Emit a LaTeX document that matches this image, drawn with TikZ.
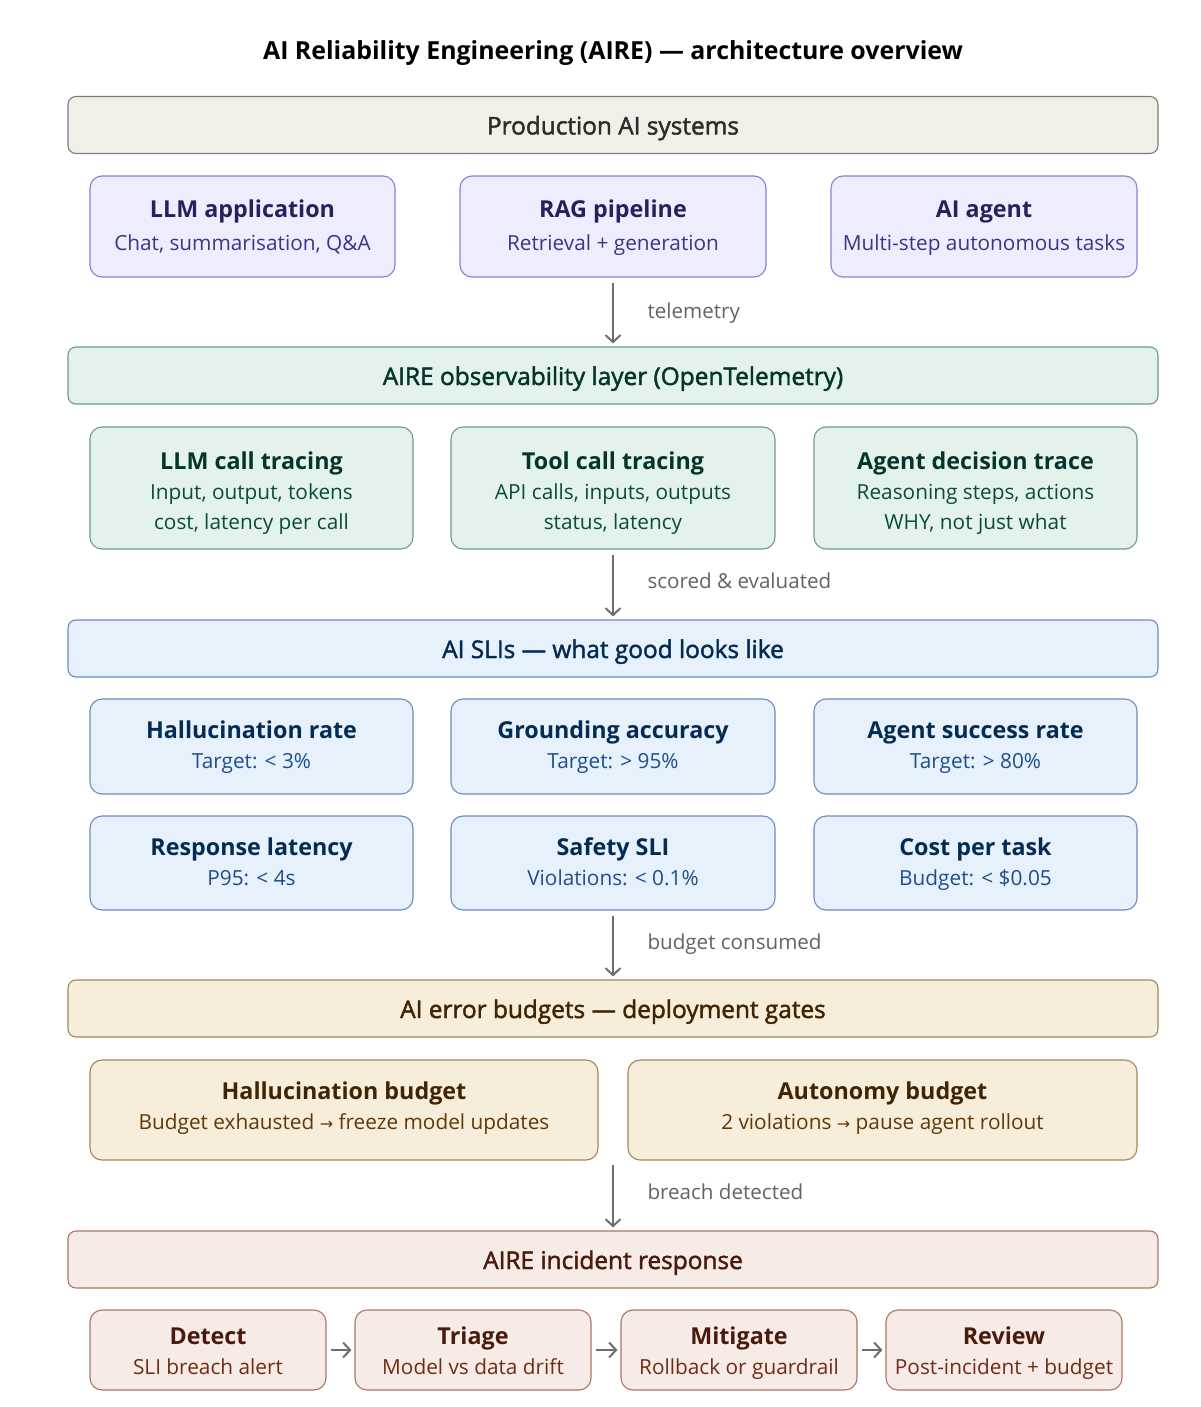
\documentclass[tikz,border=0pt]{standalone}
\usepackage{fontspec}
\setmainfont{Open Sans}
\newfontfamily\medfont{Open Sans}[FakeBold=1.8]
\newfontfamily\symf{DejaVu Sans}
\usetikzlibrary{arrows.meta}
\definecolor{gfill}{HTML}{F1EFE8}\definecolor{gdraw}{HTML}{7E7D78}\definecolor{gtext}{HTML}{2C2C2A}
\definecolor{pfill}{HTML}{EEEDFE}\definecolor{pdraw}{HTML}{8580D8}\definecolor{ptitle}{HTML}{26215C}\definecolor{psub}{HTML}{3C3489}
\definecolor{tfill}{HTML}{E3F3EC}\definecolor{tdraw}{HTML}{6F9A8A}\definecolor{ttitle}{HTML}{04342C}\definecolor{tsub}{HTML}{0B4A3E}
\definecolor{bfill}{HTML}{E6F1FB}\definecolor{bdraw}{HTML}{6A8BC0}\definecolor{btitle}{HTML}{042C53}\definecolor{bsub}{HTML}{1F4E8A}
\definecolor{afill}{HTML}{F6EDDA}\definecolor{adraw}{HTML}{A68656}\definecolor{atitle}{HTML}{412402}\definecolor{asub}{HTML}{633806}
\definecolor{cfill}{HTML}{F6EBE6}\definecolor{cdraw}{HTML}{AD7464}\definecolor{ctitle}{HTML}{4A1B0C}\definecolor{csub}{HTML}{712B13}
\definecolor{arrc}{HTML}{6E6E6E}
\newcommand{\st}[2]{\rule[-#2pt]{0pt}{\dimexpr#1pt+#2pt\relax}}
\newcommand{\ttl}[1]{\textcolor{\tc}{\fontsize{23.3}{28}\selectfont\bfseries #1}}
\newcommand{\ra}{{\symf\fontsize{16}{18}\selectfont →}}
\begin{document}
\begin{tikzpicture}[x=1pt,y=-1pt,
  band/.style={draw, rounded corners=8pt, line width=1.1pt, minimum width=1090pt, minimum height=57pt, inner sep=0pt, text height=24pt, text depth=5pt, font=\fontsize{24.4}{28}\selectfont\medfont},
  box/.style={draw, rounded corners=12pt, line width=1.1pt, inner sep=0pt, align=center, font=\fontsize{20.8}{30}\selectfont},
  gband/.style={band, fill=gfill, draw=gdraw, text=gtext},
  pbox/.style={box, fill=pfill, draw=pdraw, text=psub, execute at begin node={\def\tc{ptitle}}},
  tband/.style={band, fill=tfill, draw=tdraw, text=ttitle},
  tbox/.style={box, fill=tfill, draw=tdraw, text=tsub, execute at begin node={\def\tc{ttitle}}},
  bband/.style={band, fill=bfill, draw=bdraw, text=btitle},
  bbox/.style={box, fill=bfill, draw=bdraw, text=bsub, execute at begin node={\def\tc{btitle}}},
  aband/.style={band, fill=afill, draw=adraw, text=atitle},
  abox/.style={box, fill=afill, draw=adraw, text=asub, execute at begin node={\def\tc{atitle}}},
  cband/.style={band, fill=cfill, draw=cdraw, text=ctitle},
  cbox/.style={box, fill=cfill, draw=cdraw, text=csub, execute at begin node={\def\tc{ctitle}}},
  arr/.style={draw=arrc, line width=2pt, -{Straight Barb[length=7pt,width=15pt]}},
  lbl/.style={anchor=west, text=arrc!90!black, text height=16pt, text depth=5pt, font=\fontsize{20.6}{24}\selectfont}
]
\useasboundingbox[fill=white] (0,0) rectangle (1200,1407);

\node[font=\fontsize{24.9}{30}\selectfont\bfseries, text=black, text height=24pt, text depth=5pt] (title) at (613,50) {AI Reliability Engineering (AIRE) — architecture overview};

% band 1
\node[gband] (prod) at (613,125) {Production AI systems};
\node[pbox, minimum width=305pt, minimum height=101pt] (llm) at (242.5,226.5) {\st{22}{8}\ttl{LLM application}\\[3pt]\st{22}{8}Chat, summarisation, Q\&A};
\node[pbox, minimum width=306pt, minimum height=101pt] (rag) at (613,226.5) {\st{22}{8}\ttl{RAG pipeline}\\[3pt]\st{22}{8}Retrieval + generation};
\node[pbox, minimum width=306pt, minimum height=101pt] (agent) at (984,226.5) {\st{22}{8}\ttl{AI agent}\\[3pt]\st{22}{8}Multi-step autonomous tasks};

% band 2
\node[tband] (obs) at (613,375.5) {AIRE observability layer (OpenTelemetry)};
\draw[arr] ([yshift=-5pt]rag.south) -- ([yshift=3pt]obs.north);
\node[lbl] (l1) at (644,313) {telemetry};
\node[tbox, minimum width=323pt, minimum height=122pt] (llmt) at (251.5,488) {\st{31}{8}\ttl{LLM call tracing}\\\st{22}{8}Input, output, tokens\\\st{22}{8}cost, latency per call};
\node[tbox, minimum width=324pt, minimum height=122pt] (toolt) at (613,488) {\st{31}{8}\ttl{Tool call tracing}\\\st{22}{8}API calls, inputs, outputs\\\st{22}{8}status, latency};
\node[tbox, minimum width=323pt, minimum height=122pt] (agt) at (975.5,488) {\st{31}{8}\ttl{Agent decision trace}\\\st{22}{8}Reasoning steps, actions\\\st{22}{8}WHY, not just what};

% band 3
\node[bband] (sli) at (613,648.5) {AI SLIs — what good looks like};
\draw[arr] ([yshift=-5pt]toolt.south) -- ([yshift=3pt]sli.north);
\node[lbl] (l2) at (644,583) {scored \& evaluated};
\node[bbox, minimum width=323pt, minimum height=95pt] (hr) at (251.5,746.5) {\st{22}{8}\ttl{Hallucination rate}\\\st{22}{8}Target: < 3\%};
\node[bbox, minimum width=324pt, minimum height=95pt] (ga) at (613,746.5) {\st{22}{8}\ttl{Grounding accuracy}\\\st{22}{8}Target: > 95\%};
\node[bbox, minimum width=323pt, minimum height=95pt] (asr) at (975.5,746.5) {\st{22}{8}\ttl{Agent success rate}\\\st{22}{8}Target: > 80\%};
\node[bbox, minimum width=323pt, minimum height=94pt] (rl) at (251.5,863) {\st{22}{8}\ttl{Response latency}\\\st{22}{8}P95: < 4s};
\node[bbox, minimum width=324pt, minimum height=94pt] (ss) at (613,863) {\st{22}{8}\ttl{Safety SLI}\\\st{22}{8}Violations: < 0.1\%};
\node[bbox, minimum width=323pt, minimum height=94pt] (cpt) at (975.5,863) {\st{22}{8}\ttl{Cost per task}\\\st{22}{8}Budget: < \$0.05};

% band 4
\node[aband] (eb) at (613,1008.5) {AI error budgets — deployment gates};
\draw[arr] ([yshift=-5pt]ss.south) -- ([yshift=3pt]eb.north);
\node[lbl] (l3) at (644,944) {budget consumed};
\node[abox, minimum width=508pt, minimum height=100pt] (hb) at (344,1110) {\st{22}{8}\ttl{Hallucination budget}\\\st{22}{13}Budget exhausted \ra{} freeze model updates};
\node[abox, minimum width=509pt, minimum height=100pt] (ab) at (882.5,1110) {\st{22}{8}\ttl{Autonomy budget}\\\st{22}{13}2 violations \ra{} pause agent rollout};

% band 5
\node[cband] (ir) at (613,1259.5) {AIRE incident response};
\coordinate (brk) at (613,1165);
\draw[arr] (brk) -- ([yshift=3pt]ir.north);
\node[lbl] (l4) at (644,1194) {breach detected};
\node[cbox, minimum width=236pt, minimum height=80pt] (det) at (208,1350) {\st{26}{8}\ttl{Detect}\\\st{22}{8}SLI breach alert};
\node[cbox, minimum width=236pt, minimum height=80pt] (tri) at (473,1350) {\st{26}{8}\ttl{Triage}\\\st{22}{8}Model vs data drift};
\node[cbox, minimum width=236pt, minimum height=80pt] (mit) at (739,1350) {\st{26}{8}\ttl{Mitigate}\\\st{22}{8}Rollback or guardrail};
\node[cbox, minimum width=236pt, minimum height=80pt] (rev) at (1004,1350) {\st{26}{8}\ttl{Review}\\\st{22}{8}Post-incident + budget};
\draw[arr] ([xshift=4pt]det.east) -- ([xshift=-3pt]tri.west);
\draw[arr] ([xshift=4pt]tri.east) -- ([xshift=-3pt]mit.west);
\draw[arr] ([xshift=4pt]mit.east) -- ([xshift=-3pt]rev.west);
\end{tikzpicture}
\end{document}
